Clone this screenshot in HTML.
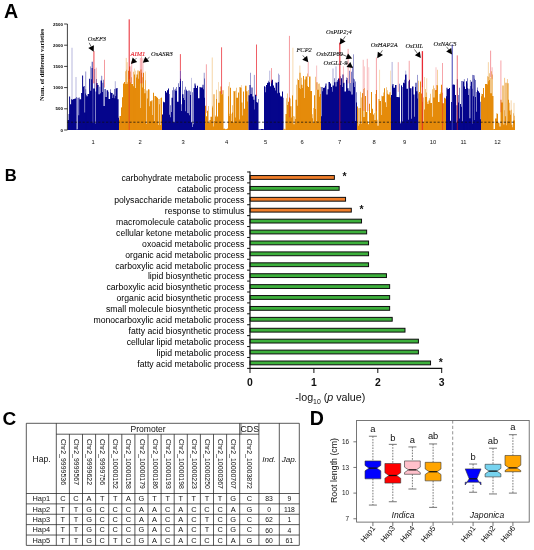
<!DOCTYPE html>
<html lang="en"><head><meta charset="utf-8"><title>Figure</title>
<style>html,body{margin:0;padding:0;background:#fff}svg{display:block}text{font-family:"Liberation Sans", Arial, sans-serif}.se{font-family:"Liberation Serif", "Times New Roman", serif}</style>
</head><body>
<svg width="534" height="550" viewBox="0 0 534 550">
<rect width="534" height="550" fill="#fff"/>
<text x="4.0" y="17.6" font-size="19.6" font-weight="bold" fill="#000">A</text>
<text x="4.8" y="180.8" font-size="16.6" font-weight="bold" fill="#000">B</text>
<text x="2.6" y="424.7" font-size="19.0" font-weight="bold" fill="#000">C</text>
<text x="309.7" y="425.1" font-size="19.6" font-weight="bold" fill="#000">D</text>
<g id="panelA">
<path d="M67.60 130.00h1.00V120.01h-1.00zM68.60 130.00h0.50V113.93h-0.50zM69.10 130.00h1.00V96.51h-1.00zM70.10 130.00h1.00V104.31h-1.00zM71.10 130.00h1.00V99.21h-1.00zM72.10 130.00h1.00V99.83h-1.00zM73.10 130.00h1.50V98.88h-1.50zM74.60 130.00h1.50V98.45h-1.50zM76.10 130.00h0.50V97.01h-0.50zM76.60 130.00h0.50V129.40h-0.50zM77.10 130.00h0.50V129.36h-0.50zM77.60 130.00h1.00V97.78h-1.00zM78.60 130.00h0.50V115.18h-0.50zM79.10 130.00h0.50V97.41h-0.50zM79.60 130.00h1.50V99.28h-1.50zM81.10 130.00h1.00V92.95h-1.00zM82.10 130.00h1.00V75.56h-1.00zM83.10 130.00h0.50V86.91h-0.50zM83.60 130.00h1.00V85.98h-1.00zM84.60 130.00h0.50V112.48h-0.50zM85.10 130.00h0.50V93.55h-0.50zM85.60 130.00h0.50V89.13h-0.50zM86.10 130.00h0.50V95.06h-0.50zM86.60 130.00h1.00V96.17h-1.00zM87.60 130.00h1.50V94.08h-1.50zM89.10 130.00h1.00V78.76h-1.00zM90.10 130.00h1.00V90.70h-1.00zM91.10 130.00h0.50V79.13h-0.50zM91.60 130.00h1.00V67.93h-1.00zM92.60 130.00h0.50V122.71h-0.50zM93.10 130.00h1.50V88.40h-1.50zM94.60 130.00h0.50V69.04h-0.50zM95.10 130.00h0.50V123.57h-0.50zM95.60 130.00h0.50V91.44h-0.50zM96.10 130.00h0.50V78.89h-0.50zM96.60 130.00h1.00V82.91h-1.00zM97.60 130.00h1.00V84.92h-1.00zM98.60 130.00h1.00V94.33h-1.00zM99.60 130.00h0.50V86.82h-0.50zM100.10 130.00h0.50V93.18h-0.50zM100.60 130.00h1.00V80.52h-1.00zM101.60 130.00h0.50V75.68h-0.50zM102.10 130.00h0.50V92.08h-0.50zM102.60 130.00h0.50V82.71h-0.50zM103.10 130.00h0.50V79.76h-0.50zM103.60 130.00h1.00V106.12h-1.00zM104.60 130.00h1.00V88.98h-1.00zM105.60 130.00h1.00V97.12h-1.00zM106.60 130.00h1.50V90.18h-1.50zM108.10 130.00h0.50V91.79h-0.50zM108.60 130.00h1.00V98.97h-1.00zM109.60 130.00h0.50V99.06h-0.50zM110.10 130.00h0.50V89.35h-0.50zM110.60 130.00h0.50V92.32h-0.50zM111.10 130.00h1.50V93.00h-1.50zM112.60 130.00h0.50V98.02h-0.50zM113.10 130.00h1.00V94.46h-1.00zM114.10 130.00h0.50V89.11h-0.50zM114.60 130.00h0.50V98.18h-0.50zM115.10 130.00h0.50V95.95h-0.50zM115.60 130.00h1.00V88.54h-1.00zM116.60 130.00h1.00V87.99h-1.00zM117.60 130.00h1.00V99.32h-1.00zM118.60 130.00h0.40V117.77h-0.40z" fill="#05058C"/>
<path d="M119.00 130.00h0.50V119.83h-0.50zM119.50 130.00h1.50V115.91h-1.50zM121.00 130.00h0.50V107.49h-0.50zM121.50 130.00h0.50V107.34h-0.50zM122.00 130.00h1.00V97.17h-1.00zM123.00 130.00h1.00V83.46h-1.00zM124.00 130.00h1.00V82.05h-1.00zM125.00 130.00h0.50V71.19h-0.50zM125.50 130.00h0.50V83.93h-0.50zM126.00 130.00h0.50V69.66h-0.50zM126.50 130.00h1.00V84.05h-1.00zM127.50 130.00h0.50V82.28h-0.50zM128.00 130.00h1.00V70.67h-1.00zM129.00 130.00h1.00V66.44h-1.00zM130.00 130.00h0.50V82.42h-0.50zM130.50 130.00h0.50V71.62h-0.50zM131.00 130.00h0.50V77.37h-0.50zM131.50 130.00h1.50V83.90h-1.50zM133.00 130.00h0.50V86.36h-0.50zM133.50 130.00h0.50V71.86h-0.50zM134.00 130.00h1.00V74.43h-1.00zM135.00 130.00h1.00V88.01h-1.00zM136.00 130.00h0.50V77.43h-0.50zM136.50 130.00h1.00V74.39h-1.00zM137.50 130.00h1.00V70.57h-1.00zM138.50 130.00h0.50V78.87h-0.50zM139.00 130.00h1.00V71.17h-1.00zM140.00 130.00h0.50V108.07h-0.50zM140.50 130.00h1.00V69.57h-1.00zM141.50 130.00h0.50V72.83h-0.50zM142.00 130.00h0.50V87.47h-0.50zM142.50 130.00h0.50V77.23h-0.50zM143.00 130.00h1.00V72.79h-1.00zM144.00 130.00h0.50V88.94h-0.50zM144.50 130.00h1.00V93.34h-1.00zM145.50 130.00h0.50V80.33h-0.50zM146.00 130.00h0.50V123.94h-0.50zM146.50 130.00h1.00V90.42h-1.00zM147.50 130.00h0.50V98.43h-0.50zM148.00 130.00h0.50V88.95h-0.50zM148.50 130.00h1.00V89.60h-1.00zM149.50 130.00h0.50V106.14h-0.50zM150.00 130.00h1.50V101.22h-1.50zM151.50 130.00h1.00V100.21h-1.00zM152.50 130.00h0.50V115.08h-0.50zM153.00 130.00h1.00V92.84h-1.00zM154.00 130.00h0.50V121.10h-0.50zM154.50 130.00h1.50V96.11h-1.50zM156.00 130.00h1.00V96.87h-1.00zM157.00 130.00h1.00V97.81h-1.00zM158.00 130.00h0.50V124.89h-0.50zM158.50 130.00h1.00V98.96h-1.00zM159.50 130.00h0.50V104.32h-0.50zM160.00 130.00h0.50V124.99h-0.50zM160.50 130.00h1.00V98.02h-1.00zM161.50 130.00h0.50V97.32h-0.50z" fill="#E58B0A"/>
<path d="M162.00 130.00h1.00V114.50h-1.00zM163.00 130.00h0.50V101.57h-0.50zM163.50 130.00h1.50V102.13h-1.50zM165.00 130.00h1.00V91.06h-1.00zM166.00 130.00h1.00V92.44h-1.00zM167.00 130.00h1.00V90.37h-1.00zM168.00 130.00h1.00V88.46h-1.00zM169.00 130.00h0.50V114.71h-0.50zM169.50 130.00h0.50V93.93h-0.50zM170.00 130.00h0.50V105.28h-0.50zM170.50 130.00h0.50V117.36h-0.50zM171.00 130.00h0.50V111.94h-0.50zM171.50 130.00h1.00V97.87h-1.00zM172.50 130.00h0.50V90.14h-0.50zM173.00 130.00h0.50V87.20h-0.50zM173.50 130.00h1.00V122.34h-1.00zM174.50 130.00h0.50V89.67h-0.50zM175.00 130.00h0.50V88.70h-0.50zM175.50 130.00h1.00V90.72h-1.00zM176.50 130.00h0.50V87.09h-0.50zM177.00 130.00h1.50V101.76h-1.50zM178.50 130.00h0.50V83.29h-0.50zM179.00 130.00h1.00V86.94h-1.00zM180.00 130.00h1.00V78.84h-1.00zM181.00 130.00h0.50V111.10h-0.50zM181.50 130.00h0.50V104.27h-0.50zM182.00 130.00h0.50V80.92h-0.50zM182.50 130.00h1.00V94.33h-1.00zM183.50 130.00h0.50V98.01h-0.50zM184.00 130.00h0.50V99.92h-0.50zM184.50 130.00h0.50V89.86h-0.50zM185.00 130.00h0.50V86.67h-0.50zM185.50 130.00h0.50V111.18h-0.50zM186.00 130.00h0.50V89.62h-0.50zM186.50 130.00h0.50V90.60h-0.50zM187.00 130.00h0.50V90.89h-0.50zM187.50 130.00h0.50V112.99h-0.50zM188.00 130.00h0.50V113.34h-0.50zM188.50 130.00h1.00V90.62h-1.00zM189.50 130.00h0.50V115.16h-0.50zM190.00 130.00h0.50V95.09h-0.50zM190.50 130.00h0.50V91.56h-0.50zM191.00 130.00h1.00V122.22h-1.00zM192.00 130.00h0.50V92.31h-0.50zM192.50 130.00h0.50V126.99h-0.50zM193.00 130.00h0.50V124.30h-0.50zM193.50 130.00h1.00V88.07h-1.00zM194.50 130.00h1.00V83.49h-1.00zM195.50 130.00h0.50V85.61h-0.50zM196.00 130.00h1.00V88.08h-1.00zM197.00 130.00h1.00V85.73h-1.00zM198.00 130.00h1.50V98.15h-1.50zM199.50 130.00h1.00V87.05h-1.00zM200.50 130.00h1.00V87.42h-1.00zM201.50 130.00h1.00V87.41h-1.00zM202.50 130.00h1.00V84.85h-1.00zM203.50 130.00h0.50V89.19h-0.50zM204.00 130.00h0.50V78.39h-0.50zM204.50 130.00h0.50V97.74h-0.50z" fill="#05058C"/>
<path d="M205.00 130.00h1.00V105.77h-1.00zM206.00 130.00h1.00V116.34h-1.00zM207.00 130.00h1.00V110.78h-1.00zM208.00 130.00h0.50V106.07h-0.50zM208.50 130.00h1.00V123.12h-1.00zM209.50 130.00h1.00V120.12h-1.00zM210.50 130.00h1.50V116.72h-1.50zM212.00 130.00h0.50V105.83h-0.50zM212.50 130.00h0.50V107.56h-0.50zM213.00 130.00h0.50V126.49h-0.50zM213.50 130.00h1.00V94.18h-1.00zM214.50 130.00h0.50V120.92h-0.50zM215.00 130.00h0.50V115.42h-0.50zM215.50 130.00h0.50V116.83h-0.50zM216.00 130.00h0.50V89.67h-0.50zM216.50 130.00h0.50V99.12h-0.50zM217.00 130.00h1.00V116.50h-1.00zM218.00 130.00h1.50V102.76h-1.50zM219.50 130.00h1.00V91.21h-1.00zM220.50 130.00h1.00V86.47h-1.00zM221.50 130.00h1.00V94.21h-1.00zM222.50 130.00h1.00V90.20h-1.00zM223.50 130.00h0.50V128.87h-0.50zM224.00 130.00h0.50V128.62h-0.50zM224.50 130.00h0.50V128.82h-0.50zM225.00 130.00h0.50V129.31h-0.50zM225.50 130.00h0.50V129.18h-0.50zM226.00 130.00h0.50V129.30h-0.50zM226.50 130.00h0.50V128.91h-0.50zM227.00 130.00h0.50V128.51h-0.50zM227.50 130.00h0.50V128.50h-0.50zM228.00 130.00h0.50V86.25h-0.50zM228.50 130.00h0.50V96.30h-0.50zM229.00 130.00h0.50V116.10h-0.50zM229.50 130.00h0.50V113.80h-0.50zM230.00 130.00h1.00V87.76h-1.00zM231.00 130.00h0.50V113.86h-0.50zM231.50 130.00h0.50V121.04h-0.50zM232.00 130.00h0.50V112.38h-0.50zM232.50 130.00h0.50V105.25h-0.50zM233.00 130.00h0.50V90.94h-0.50zM233.50 130.00h0.50V122.32h-0.50zM234.00 130.00h1.00V91.29h-1.00zM235.00 130.00h0.50V90.68h-0.50zM235.50 130.00h0.50V117.55h-0.50zM236.00 130.00h0.50V87.67h-0.50zM236.50 130.00h1.50V97.85h-1.50zM238.00 130.00h1.00V92.54h-1.00zM239.00 130.00h0.50V119.54h-0.50zM239.50 130.00h1.00V86.91h-1.00zM240.50 130.00h1.00V87.83h-1.00zM241.50 130.00h1.00V102.54h-1.00zM242.50 130.00h0.50V115.55h-0.50zM243.00 130.00h1.00V91.46h-1.00zM244.00 130.00h1.00V108.69h-1.00zM245.00 130.00h0.50V86.25h-0.50zM245.50 130.00h1.00V85.65h-1.00zM246.50 130.00h1.00V91.17h-1.00zM247.50 130.00h0.50V101.40h-0.50zM248.00 130.00h0.50V89.95h-0.50z" fill="#E58B0A"/>
<path d="M248.50 130.00h1.00V95.29h-1.00zM249.50 130.00h1.00V84.94h-1.00zM250.50 130.00h1.00V93.99h-1.00zM251.50 130.00h1.00V87.44h-1.00zM252.50 130.00h1.00V96.57h-1.00zM253.50 130.00h1.00V99.74h-1.00zM254.50 130.00h0.50V109.47h-0.50zM255.00 130.00h1.50V94.86h-1.50zM256.50 130.00h1.00V101.98h-1.00zM257.50 130.00h0.50V102.94h-0.50zM258.00 130.00h0.50V99.10h-0.50zM258.50 130.00h0.50V129.57h-0.50zM259.00 130.00h0.50V129.36h-0.50zM259.50 130.00h0.50V129.55h-0.50zM260.00 130.00h0.50V129.43h-0.50zM260.50 130.00h0.50V129.36h-0.50zM261.00 130.00h0.50V129.11h-0.50zM261.50 130.00h0.50V129.08h-0.50zM262.00 130.00h0.50V128.97h-0.50zM262.50 130.00h0.50V128.89h-0.50zM263.00 130.00h0.50V129.01h-0.50zM263.50 130.00h0.50V129.43h-0.50zM264.00 130.00h1.00V86.20h-1.00zM265.00 130.00h0.50V86.73h-0.50zM265.50 130.00h0.50V92.28h-0.50zM266.00 130.00h1.00V85.10h-1.00zM267.00 130.00h0.50V82.87h-0.50zM267.50 130.00h0.50V83.10h-0.50zM268.00 130.00h0.50V80.77h-0.50zM268.50 130.00h0.50V82.60h-0.50zM269.00 130.00h1.00V82.16h-1.00zM270.00 130.00h1.00V86.16h-1.00zM271.00 130.00h0.50V81.18h-0.50zM271.50 130.00h1.50V79.66h-1.50zM273.00 130.00h1.00V85.42h-1.00zM274.00 130.00h1.00V87.71h-1.00zM275.00 130.00h0.50V82.54h-0.50zM275.50 130.00h0.50V90.53h-0.50zM276.00 130.00h0.50V82.98h-0.50zM276.50 130.00h1.00V82.45h-1.00zM277.50 130.00h0.50V93.13h-0.50zM278.00 130.00h1.00V82.05h-1.00zM279.00 130.00h1.00V92.65h-1.00zM280.00 130.00h0.50V95.55h-0.50zM280.50 130.00h1.50V96.55h-1.50zM282.00 130.00h1.00V91.53h-1.00zM283.00 130.00h0.50V97.82h-0.50z" fill="#05058C"/>
<path d="M283.50 130.00h0.50V128.45h-0.50zM284.00 130.00h0.50V129.51h-0.50zM284.50 130.00h0.50V128.82h-0.50zM285.00 130.00h0.50V129.56h-0.50zM285.50 130.00h1.00V113.90h-1.00zM286.50 130.00h0.50V98.20h-0.50zM287.00 130.00h0.50V105.03h-0.50zM287.50 130.00h0.50V93.61h-0.50zM288.00 130.00h1.00V101.87h-1.00zM289.00 130.00h1.00V97.62h-1.00zM290.00 130.00h0.50V106.35h-0.50zM290.50 130.00h0.50V98.42h-0.50zM291.00 130.00h0.50V117.51h-0.50zM291.50 130.00h0.50V106.36h-0.50zM292.00 130.00h0.50V95.33h-0.50zM292.50 130.00h0.50V95.41h-0.50zM293.00 130.00h0.50V115.91h-0.50zM293.50 130.00h1.00V124.36h-1.00zM294.50 130.00h0.50V116.58h-0.50zM295.00 130.00h0.50V118.93h-0.50zM295.50 130.00h1.00V99.63h-1.00zM296.50 130.00h0.50V84.76h-0.50zM297.00 130.00h0.50V105.67h-0.50zM297.50 130.00h0.50V78.77h-0.50zM298.00 130.00h1.00V80.00h-1.00zM299.00 130.00h0.50V88.05h-0.50zM299.50 130.00h1.00V72.66h-1.00zM300.50 130.00h0.50V89.06h-0.50zM301.00 130.00h0.50V77.76h-0.50zM301.50 130.00h1.00V84.65h-1.00zM302.50 130.00h0.50V87.93h-0.50zM303.00 130.00h1.00V75.90h-1.00zM304.00 130.00h0.50V98.12h-0.50zM304.50 130.00h1.00V79.45h-1.00zM305.50 130.00h1.50V76.54h-1.50zM307.00 130.00h0.50V85.99h-0.50zM307.50 130.00h0.50V73.58h-0.50zM308.00 130.00h1.00V87.10h-1.00zM309.00 130.00h1.50V76.54h-1.50zM310.50 130.00h1.50V91.09h-1.50zM312.00 130.00h0.50V118.21h-0.50zM312.50 130.00h0.50V114.24h-0.50zM313.00 130.00h0.50V107.97h-0.50zM313.50 130.00h0.50V122.96h-0.50zM314.00 130.00h1.00V95.34h-1.00zM315.00 130.00h0.50V108.88h-0.50zM315.50 130.00h0.50V76.66h-0.50zM316.00 130.00h0.50V121.02h-0.50zM316.50 130.00h1.00V82.30h-1.00zM317.50 130.00h1.00V89.66h-1.00zM318.50 130.00h0.50V83.69h-0.50zM319.00 130.00h0.50V96.68h-0.50zM319.50 130.00h0.50V83.56h-0.50zM320.00 130.00h0.50V94.03h-0.50zM320.50 130.00h0.50V86.69h-0.50z" fill="#E58B0A"/>
<path d="M321.00 130.00h0.50V116.37h-0.50zM321.50 130.00h1.00V87.02h-1.00zM322.50 130.00h0.50V91.24h-0.50zM323.00 130.00h0.50V87.88h-0.50zM323.50 130.00h1.00V87.77h-1.00zM324.50 130.00h0.50V87.53h-0.50zM325.00 130.00h0.50V85.66h-0.50zM325.50 130.00h1.00V83.55h-1.00zM326.50 130.00h1.00V94.47h-1.00zM327.50 130.00h1.00V89.14h-1.00zM328.50 130.00h1.50V81.95h-1.50zM330.00 130.00h1.00V83.38h-1.00zM331.00 130.00h1.00V87.08h-1.00zM332.00 130.00h0.50V91.70h-0.50zM332.50 130.00h1.50V85.57h-1.50zM334.00 130.00h0.50V78.28h-0.50zM334.50 130.00h1.00V82.33h-1.00zM335.50 130.00h1.00V86.43h-1.00zM336.50 130.00h1.00V81.73h-1.00zM337.50 130.00h0.50V79.89h-0.50zM338.00 130.00h1.00V78.52h-1.00zM339.00 130.00h1.00V78.48h-1.00zM340.00 130.00h0.50V85.09h-0.50zM340.50 130.00h0.50V76.36h-0.50zM341.00 130.00h1.00V78.29h-1.00zM342.00 130.00h0.50V86.91h-0.50zM342.50 130.00h1.00V74.46h-1.00zM343.50 130.00h1.00V82.64h-1.00zM344.50 130.00h1.50V91.56h-1.50zM346.00 130.00h0.50V77.55h-0.50zM346.50 130.00h0.50V79.92h-0.50zM347.00 130.00h0.50V77.89h-0.50zM347.50 130.00h1.00V88.17h-1.00zM348.50 130.00h1.00V90.78h-1.00zM349.50 130.00h0.50V70.69h-0.50zM350.00 130.00h0.50V82.91h-0.50zM350.50 130.00h0.50V91.61h-0.50zM351.00 130.00h0.50V71.79h-0.50zM351.50 130.00h1.50V94.44h-1.50zM353.00 130.00h0.50V78.62h-0.50zM353.50 130.00h0.50V82.70h-0.50zM354.00 130.00h0.50V79.28h-0.50zM354.50 130.00h0.50V87.11h-0.50zM355.00 130.00h0.50V81.38h-0.50zM355.50 130.00h0.50V121.04h-0.50zM356.00 130.00h0.50V92.29h-0.50zM356.50 130.00h0.50V102.58h-0.50z" fill="#05058C"/>
<path d="M357.00 130.00h1.00V106.41h-1.00zM358.00 130.00h0.50V125.74h-0.50zM358.50 130.00h0.50V108.14h-0.50zM359.00 130.00h0.50V124.01h-0.50zM359.50 130.00h1.00V108.04h-1.00zM360.50 130.00h0.50V91.65h-0.50zM361.00 130.00h0.50V123.76h-0.50zM361.50 130.00h0.50V97.50h-0.50zM362.00 130.00h0.50V92.97h-0.50zM362.50 130.00h0.50V93.15h-0.50zM363.00 130.00h0.50V89.01h-0.50zM363.50 130.00h1.00V116.89h-1.00zM364.50 130.00h0.50V88.02h-0.50zM365.00 130.00h1.00V96.07h-1.00zM366.00 130.00h1.00V111.91h-1.00zM367.00 130.00h0.50V121.21h-0.50zM367.50 130.00h0.50V90.35h-0.50zM368.00 130.00h1.00V124.29h-1.00zM369.00 130.00h1.00V103.81h-1.00zM370.00 130.00h1.00V113.11h-1.00zM371.00 130.00h1.00V92.06h-1.00zM372.00 130.00h1.00V108.78h-1.00zM373.00 130.00h1.00V114.39h-1.00zM374.00 130.00h0.50V112.98h-0.50zM374.50 130.00h1.00V120.04h-1.00zM375.50 130.00h0.50V93.97h-0.50zM376.00 130.00h1.00V89.89h-1.00zM377.00 130.00h0.50V119.66h-0.50zM377.50 130.00h1.00V125.66h-1.00zM378.50 130.00h1.00V99.00h-1.00zM379.50 130.00h1.50V100.95h-1.50zM381.00 130.00h0.50V115.06h-0.50zM381.50 130.00h0.50V95.64h-0.50zM382.00 130.00h1.00V96.22h-1.00zM383.00 130.00h0.50V92.50h-0.50zM383.50 130.00h0.50V96.04h-0.50zM384.00 130.00h1.00V88.29h-1.00zM385.00 130.00h1.00V102.28h-1.00zM386.00 130.00h0.50V106.90h-0.50zM386.50 130.00h0.50V87.33h-0.50zM387.00 130.00h0.50V90.19h-0.50zM387.50 130.00h0.50V93.64h-0.50zM388.00 130.00h1.50V94.38h-1.50zM389.50 130.00h1.00V92.22h-1.00zM390.50 130.00h0.50V97.40h-0.50z" fill="#E58B0A"/>
<path d="M391.00 130.00h1.00V95.02h-1.00zM392.00 130.00h0.50V85.60h-0.50zM392.50 130.00h1.00V84.00h-1.00zM393.50 130.00h1.50V87.66h-1.50zM395.00 130.00h1.50V84.97h-1.50zM396.50 130.00h1.00V97.01h-1.00zM397.50 130.00h1.00V96.91h-1.00zM398.50 130.00h1.00V97.35h-1.00zM399.50 130.00h0.50V83.87h-0.50zM400.00 130.00h0.50V123.59h-0.50zM400.50 130.00h0.50V123.07h-0.50zM401.00 130.00h0.50V85.26h-0.50zM401.50 130.00h0.50V85.51h-0.50zM402.00 130.00h0.50V121.42h-0.50zM402.50 130.00h0.50V87.07h-0.50zM403.00 130.00h0.50V82.41h-0.50zM403.50 130.00h0.50V83.07h-0.50zM404.00 130.00h0.50V83.13h-0.50zM404.50 130.00h0.50V79.87h-0.50zM405.00 130.00h0.50V74.86h-0.50zM405.50 130.00h1.00V74.53h-1.00zM406.50 130.00h1.50V88.64h-1.50zM408.00 130.00h0.50V81.27h-0.50zM408.50 130.00h0.50V119.71h-0.50zM409.00 130.00h1.00V79.77h-1.00zM410.00 130.00h1.50V88.24h-1.50zM411.50 130.00h0.50V118.84h-0.50zM412.00 130.00h1.50V86.39h-1.50zM413.50 130.00h1.00V94.50h-1.00zM414.50 130.00h0.50V116.65h-0.50zM415.00 130.00h0.50V87.11h-0.50zM415.50 130.00h1.00V82.87h-1.00zM416.50 130.00h1.00V91.32h-1.00zM417.50 130.00h0.50V98.55h-0.50zM418.00 130.00h0.50V93.48h-0.50z" fill="#05058C"/>
<path d="M418.50 130.00h0.50V80.85h-0.50zM419.00 130.00h1.00V91.99h-1.00zM420.00 130.00h0.50V80.71h-0.50zM420.50 130.00h0.50V82.10h-0.50zM421.00 130.00h1.00V93.44h-1.00zM422.00 130.00h0.50V86.24h-0.50zM422.50 130.00h0.50V101.81h-0.50zM423.00 130.00h0.50V97.39h-0.50zM423.50 130.00h0.50V122.07h-0.50zM424.00 130.00h1.00V109.43h-1.00zM425.00 130.00h0.50V89.04h-0.50zM425.50 130.00h1.00V97.09h-1.00zM426.50 130.00h0.50V92.48h-0.50zM427.00 130.00h0.50V101.83h-0.50zM427.50 130.00h1.00V104.11h-1.00zM428.50 130.00h1.00V100.58h-1.00zM429.50 130.00h0.50V98.19h-0.50zM430.00 130.00h0.50V93.70h-0.50zM430.50 130.00h1.50V102.96h-1.50zM432.00 130.00h0.50V116.68h-0.50zM432.50 130.00h0.50V89.20h-0.50zM433.00 130.00h0.50V85.61h-0.50zM433.50 130.00h1.00V97.46h-1.00zM434.50 130.00h0.50V88.29h-0.50zM435.00 130.00h0.50V90.36h-0.50zM435.50 130.00h1.00V89.92h-1.00zM436.50 130.00h0.50V84.95h-0.50zM437.00 130.00h1.00V85.17h-1.00zM438.00 130.00h1.50V102.11h-1.50zM439.50 130.00h1.00V93.93h-1.00zM440.50 130.00h0.50V92.55h-0.50zM441.00 130.00h1.00V84.69h-1.00zM442.00 130.00h0.50V93.05h-0.50zM442.50 130.00h1.50V103.33h-1.50zM444.00 130.00h1.00V97.85h-1.00zM445.00 130.00h1.00V98.50h-1.00z" fill="#E58B0A"/>
<path d="M446.00 130.00h0.50V96.30h-0.50zM446.50 130.00h1.00V87.67h-1.00zM447.50 130.00h0.50V89.28h-0.50zM448.00 130.00h1.00V88.89h-1.00zM449.00 130.00h1.00V87.90h-1.00zM450.00 130.00h1.00V120.73h-1.00zM451.00 130.00h1.00V102.05h-1.00zM452.00 130.00h1.00V84.80h-1.00zM453.00 130.00h0.50V84.55h-0.50zM453.50 130.00h0.50V84.57h-0.50zM454.00 130.00h1.00V84.67h-1.00zM455.00 130.00h1.00V95.08h-1.00zM456.00 130.00h0.50V122.41h-0.50zM456.50 130.00h1.00V105.16h-1.00zM457.50 130.00h0.50V120.57h-0.50zM458.00 130.00h0.50V102.47h-0.50zM458.50 130.00h0.50V94.92h-0.50zM459.00 130.00h0.50V118.49h-0.50zM459.50 130.00h0.50V87.72h-0.50zM460.00 130.00h1.00V104.07h-1.00zM461.00 130.00h0.50V106.74h-0.50zM461.50 130.00h1.00V81.07h-1.00zM462.50 130.00h0.50V121.14h-0.50zM463.00 130.00h1.00V81.40h-1.00zM464.00 130.00h1.00V86.53h-1.00zM465.00 130.00h1.00V89.03h-1.00zM466.00 130.00h1.00V81.19h-1.00zM467.00 130.00h0.50V78.26h-0.50zM467.50 130.00h0.50V88.24h-0.50zM468.00 130.00h0.50V95.12h-0.50zM468.50 130.00h1.00V88.84h-1.00zM469.50 130.00h1.00V118.14h-1.00zM470.50 130.00h0.50V86.09h-0.50zM471.00 130.00h1.00V81.67h-1.00zM472.00 130.00h0.50V88.67h-0.50zM472.50 130.00h0.50V123.85h-0.50zM473.00 130.00h0.50V74.93h-0.50zM473.50 130.00h0.50V96.16h-0.50zM474.00 130.00h0.50V78.81h-0.50zM474.50 130.00h0.50V119.89h-0.50zM475.00 130.00h0.50V80.10h-0.50zM475.50 130.00h0.50V97.10h-0.50zM476.00 130.00h0.50V92.04h-0.50zM476.50 130.00h0.50V111.82h-0.50zM477.00 130.00h0.50V87.62h-0.50zM477.50 130.00h0.50V90.16h-0.50zM478.00 130.00h1.00V91.20h-1.00zM479.00 130.00h1.00V92.63h-1.00zM480.00 130.00h0.50V119.29h-0.50zM480.50 130.00h0.50V101.80h-0.50z" fill="#05058C"/>
<path d="M481.00 130.00h0.50V93.69h-0.50zM481.50 130.00h0.50V96.29h-0.50zM482.00 130.00h1.00V94.00h-1.00zM483.00 130.00h1.00V88.00h-1.00zM484.00 130.00h1.00V97.53h-1.00zM485.00 130.00h1.00V84.12h-1.00zM486.00 130.00h1.00V84.01h-1.00zM487.00 130.00h0.50V84.42h-0.50zM487.50 130.00h0.50V76.19h-0.50zM488.00 130.00h0.50V81.15h-0.50zM488.50 130.00h0.50V76.84h-0.50zM489.00 130.00h0.50V80.07h-0.50zM489.50 130.00h0.50V73.13h-0.50zM490.00 130.00h0.50V77.49h-0.50zM490.50 130.00h1.00V93.20h-1.00zM491.50 130.00h0.50V71.31h-0.50zM492.00 130.00h0.50V74.58h-0.50zM492.50 130.00h1.00V96.03h-1.00zM493.50 130.00h0.50V129.19h-0.50zM494.00 130.00h0.50V129.10h-0.50zM494.50 130.00h0.50V129.12h-0.50zM495.00 130.00h1.50V118.43h-1.50zM496.50 130.00h0.50V113.36h-0.50zM497.00 130.00h1.00V113.76h-1.00zM498.00 130.00h1.00V122.85h-1.00zM499.00 130.00h0.50V123.32h-0.50zM499.50 130.00h1.00V126.62h-1.00zM500.50 130.00h1.00V99.73h-1.00zM501.50 130.00h1.00V102.49h-1.00zM502.50 130.00h1.00V85.52h-1.00zM503.50 130.00h1.00V124.45h-1.00zM504.50 130.00h0.50V110.22h-0.50zM505.00 130.00h0.50V116.23h-0.50zM505.50 130.00h1.00V82.74h-1.00zM506.50 130.00h0.50V125.18h-0.50zM507.00 130.00h0.50V121.32h-0.50zM507.50 130.00h1.00V83.21h-1.00zM508.50 130.00h0.50V99.70h-0.50zM509.00 130.00h0.50V102.67h-0.50zM509.50 130.00h1.00V110.52h-1.00zM510.50 130.00h0.50V114.79h-0.50zM511.00 130.00h0.50V124.66h-0.50zM511.50 130.00h0.50V109.80h-0.50zM512.00 130.00h0.50V124.61h-0.50zM512.50 130.00h0.50V127.22h-0.50zM513.00 130.00h0.50V113.36h-0.50zM513.50 130.00h1.00V120.56h-1.00zM514.50 130.00h0.50V115.79h-0.50z" fill="#E58B0A"/>
<rect x="71.65" y="47.74" width="0.70" height="82.26" fill="#05058C" opacity="0.40"/>
<rect x="75.70" y="77.00" width="0.60" height="53.00" fill="#05058C" opacity="0.45"/>
<rect x="85.45" y="71.49" width="0.70" height="58.51" fill="#05058C" opacity="0.60"/>
<rect x="90.25" y="66.40" width="0.70" height="63.60" fill="#05058C" opacity="0.55"/>
<rect x="91.75" y="61.74" width="0.90" height="68.26" fill="#05058C" opacity="0.85"/>
<rect x="93.30" y="51.14" width="1.20" height="32.22" fill="#E8202A" opacity="0.70"/>
<rect x="95.80" y="67.67" width="0.80" height="19.93" fill="#E8202A" opacity="0.45"/>
<rect x="104.05" y="59.79" width="0.90" height="27.81" fill="#E8202A" opacity="0.50"/>
<rect x="114.85" y="81.24" width="0.70" height="48.76" fill="#05058C" opacity="0.45"/>
<rect x="128.65" y="19.34" width="1.10" height="59.78" fill="#E8202A" opacity="0.90"/>
<rect x="128.65" y="79.12" width="1.10" height="50.88" fill="#E8202A" opacity="0.50"/>
<rect x="125.80" y="57.92" width="0.80" height="72.08" fill="#E58B0A" opacity="0.50"/>
<rect x="126.85" y="62.16" width="0.70" height="67.84" fill="#E58B0A" opacity="0.50"/>
<rect x="130.45" y="66.40" width="0.70" height="16.96" fill="#E8202A" opacity="0.45"/>
<rect x="131.45" y="61.31" width="0.70" height="22.05" fill="#E8202A" opacity="0.45"/>
<rect x="139.90" y="57.92" width="0.80" height="25.44" fill="#E8202A" opacity="0.45"/>
<rect x="141.20" y="56.44" width="0.80" height="26.92" fill="#E8202A" opacity="0.45"/>
<rect x="142.50" y="58.34" width="0.80" height="25.02" fill="#E8202A" opacity="0.45"/>
<rect x="133.95" y="68.52" width="0.70" height="61.48" fill="#E58B0A" opacity="0.50"/>
<rect x="135.25" y="70.64" width="0.70" height="59.36" fill="#E58B0A" opacity="0.50"/>
<rect x="144.95" y="71.49" width="0.70" height="58.51" fill="#E58B0A" opacity="0.50"/>
<rect x="179.90" y="54.10" width="1.00" height="16.54" fill="#E8202A" opacity="0.75"/>
<rect x="179.90" y="70.64" width="1.00" height="10.60" fill="#6A1B8A" opacity="0.80"/>
<rect x="179.80" y="81.24" width="1.20" height="48.76" fill="#05058C" opacity="0.90"/>
<rect x="191.00" y="77.85" width="0.60" height="52.15" fill="#05058C" opacity="0.40"/>
<rect x="203.75" y="72.76" width="0.90" height="57.24" fill="#05058C" opacity="0.45"/>
<rect x="205.90" y="64.28" width="0.80" height="48.76" fill="#E8202A" opacity="0.50"/>
<rect x="211.80" y="57.50" width="0.80" height="72.50" fill="#E58B0A" opacity="0.45"/>
<rect x="221.15" y="47.32" width="0.90" height="46.64" fill="#E8202A" opacity="0.80"/>
<rect x="228.95" y="82.09" width="0.70" height="47.91" fill="#E58B0A" opacity="0.50"/>
<rect x="218.00" y="82.09" width="0.60" height="47.91" fill="#E58B0A" opacity="0.45"/>
<rect x="240.95" y="85.06" width="0.70" height="44.94" fill="#E58B0A" opacity="0.50"/>
<rect x="245.25" y="85.48" width="0.70" height="44.52" fill="#E58B0A" opacity="0.50"/>
<rect x="256.05" y="44.52" width="0.90" height="51.56" fill="#E8202A" opacity="0.80"/>
<rect x="250.20" y="72.76" width="0.80" height="57.24" fill="#05058C" opacity="0.50"/>
<rect x="253.90" y="74.88" width="0.80" height="55.12" fill="#05058C" opacity="0.50"/>
<rect x="269.45" y="70.64" width="0.70" height="59.36" fill="#05058C" opacity="0.40"/>
<rect x="271.20" y="68.10" width="0.80" height="15.26" fill="#E8202A" opacity="0.55"/>
<rect x="278.10" y="73.61" width="0.80" height="56.39" fill="#05058C" opacity="0.45"/>
<rect x="279.25" y="74.88" width="0.70" height="55.12" fill="#05058C" opacity="0.40"/>
<rect x="288.95" y="35.87" width="0.90" height="81.41" fill="#E8202A" opacity="0.50"/>
<rect x="292.50" y="47.74" width="0.80" height="82.26" fill="#E58B0A" opacity="0.40"/>
<rect x="299.55" y="65.55" width="0.70" height="64.45" fill="#E58B0A" opacity="0.50"/>
<rect x="307.80" y="62.16" width="0.80" height="14.84" fill="#E8202A" opacity="0.45"/>
<rect x="316.30" y="65.55" width="0.80" height="24.17" fill="#E8202A" opacity="0.35"/>
<rect x="339.20" y="42.66" width="1.20" height="38.58" fill="#E8202A" opacity="0.90"/>
<rect x="339.20" y="81.24" width="1.20" height="48.76" fill="#E8202A" opacity="0.60"/>
<rect x="342.95" y="66.40" width="0.70" height="16.96" fill="#E8202A" opacity="0.40"/>
<rect x="347.65" y="48.89" width="0.90" height="34.47" fill="#E8202A" opacity="0.45"/>
<rect x="349.95" y="63.86" width="0.70" height="19.50" fill="#E8202A" opacity="0.40"/>
<rect x="352.00" y="66.40" width="0.80" height="63.60" fill="#05058C" opacity="0.60"/>
<rect x="353.10" y="54.32" width="0.80" height="75.68" fill="#05058C" opacity="0.50"/>
<rect x="332.65" y="68.52" width="0.70" height="61.48" fill="#05058C" opacity="0.50"/>
<rect x="335.65" y="66.40" width="0.70" height="63.60" fill="#05058C" opacity="0.50"/>
<rect x="362.70" y="59.79" width="1.00" height="51.13" fill="#E8202A" opacity="0.33"/>
<rect x="364.00" y="66.40" width="0.80" height="44.52" fill="#E8202A" opacity="0.28"/>
<rect x="366.80" y="58.77" width="1.00" height="52.15" fill="#E8202A" opacity="0.33"/>
<rect x="368.40" y="67.25" width="0.80" height="43.67" fill="#E8202A" opacity="0.28"/>
<rect x="375.90" y="57.58" width="1.00" height="53.34" fill="#E8202A" opacity="0.40"/>
<rect x="379.35" y="69.79" width="0.70" height="60.21" fill="#E58B0A" opacity="0.40"/>
<rect x="390.25" y="70.64" width="0.70" height="59.36" fill="#E58B0A" opacity="0.35"/>
<rect x="391.70" y="61.95" width="0.80" height="68.05" fill="#05058C" opacity="0.40"/>
<rect x="397.80" y="62.16" width="0.80" height="29.68" fill="#E8202A" opacity="0.45"/>
<rect x="405.45" y="70.64" width="0.70" height="59.36" fill="#05058C" opacity="0.40"/>
<rect x="408.75" y="60.80" width="0.90" height="26.80" fill="#E8202A" opacity="0.45"/>
<rect x="417.20" y="74.88" width="0.80" height="55.12" fill="#05058C" opacity="0.50"/>
<rect x="421.75" y="51.14" width="1.30" height="36.46" fill="#E8202A" opacity="0.95"/>
<rect x="421.75" y="87.60" width="1.30" height="42.40" fill="#E8202A" opacity="0.70"/>
<rect x="435.60" y="67.25" width="0.80" height="24.59" fill="#E8202A" opacity="0.35"/>
<rect x="437.00" y="69.79" width="0.80" height="60.21" fill="#E58B0A" opacity="0.50"/>
<rect x="442.05" y="63.01" width="0.90" height="28.83" fill="#E8202A" opacity="0.45"/>
<rect x="442.05" y="91.84" width="0.90" height="38.16" fill="#E8202A" opacity="0.55"/>
<rect x="424.25" y="77.00" width="0.70" height="53.00" fill="#E58B0A" opacity="0.45"/>
<rect x="426.45" y="78.27" width="0.70" height="51.73" fill="#E58B0A" opacity="0.45"/>
<rect x="451.60" y="44.52" width="1.40" height="85.48" fill="#3C3CB4" opacity="0.70"/>
<rect x="456.75" y="55.38" width="1.10" height="23.74" fill="#E8202A" opacity="0.55"/>
<rect x="456.75" y="79.12" width="1.10" height="50.88" fill="#A01030" opacity="0.85"/>
<rect x="463.90" y="79.12" width="0.80" height="50.88" fill="#05058C" opacity="0.60"/>
<rect x="472.20" y="74.88" width="0.80" height="55.12" fill="#05058C" opacity="0.55"/>
<rect x="473.90" y="75.30" width="0.80" height="54.70" fill="#05058C" opacity="0.55"/>
<rect x="463.45" y="87.60" width="0.70" height="42.40" fill="#05058C" opacity="0.60"/>
<rect x="466.70" y="83.36" width="0.80" height="46.64" fill="#05058C" opacity="0.60"/>
<rect x="469.90" y="79.97" width="0.80" height="50.03" fill="#05058C" opacity="0.60"/>
<rect x="487.90" y="62.16" width="0.80" height="67.84" fill="#E58B0A" opacity="0.45"/>
<rect x="490.10" y="50.63" width="1.00" height="26.37" fill="#E8202A" opacity="0.45"/>
<rect x="491.70" y="67.25" width="0.80" height="11.87" fill="#E8202A" opacity="0.40"/>
<rect x="500.45" y="60.46" width="0.90" height="51.73" fill="#E8202A" opacity="0.45"/>
<rect x="504.15" y="77.85" width="0.90" height="52.15" fill="#E58B0A" opacity="0.50"/>
<rect x="506.95" y="79.12" width="0.90" height="50.88" fill="#E58B0A" opacity="0.50"/>
<rect x="510.75" y="100.32" width="0.70" height="29.68" fill="#E58B0A" opacity="0.50"/>
<rect x="513.65" y="102.86" width="0.70" height="27.14" fill="#E58B0A" opacity="0.50"/>
<path d="M67 122.2H515" stroke="#111" stroke-width="0.75" stroke-dasharray="2.2 1.7" fill="none"/>
<text x="62.9" y="131.60" font-size="4.4" font-weight="bold" text-anchor="end" fill="#000">0</text>
<text x="62.9" y="110.40" font-size="4.4" font-weight="bold" text-anchor="end" fill="#000">500</text>
<text x="62.9" y="89.20" font-size="4.4" font-weight="bold" text-anchor="end" fill="#000">1000</text>
<text x="62.9" y="68.00" font-size="4.4" font-weight="bold" text-anchor="end" fill="#000">1500</text>
<text x="62.9" y="46.80" font-size="4.4" font-weight="bold" text-anchor="end" fill="#000">2000</text>
<text x="62.9" y="25.60" font-size="4.4" font-weight="bold" text-anchor="end" fill="#000">2500</text>
<path d="M67.4 24.00V130.00M67.4 130.00h-3.3M67.4 108.80h-3.3M67.4 87.60h-3.3M67.4 66.40h-3.3M67.4 45.20h-3.3M67.4 24.00h-3.3" stroke="#111" stroke-width="0.8" fill="none"/>
<text class="se" transform="translate(44.1 64.9) rotate(-90) scale(0.908 1)" font-size="7.1" font-weight="bold" text-anchor="middle" fill="#111">Num. of different varieties</text>
<text x="93.0" y="143.8" font-size="5.8" text-anchor="middle" fill="#111">1</text>
<text x="140.0" y="143.8" font-size="5.8" text-anchor="middle" fill="#111">2</text>
<text x="183.0" y="143.8" font-size="5.8" text-anchor="middle" fill="#111">3</text>
<text x="226.5" y="143.8" font-size="5.8" text-anchor="middle" fill="#111">4</text>
<text x="265.5" y="143.8" font-size="5.8" text-anchor="middle" fill="#111">5</text>
<text x="302.0" y="143.8" font-size="5.8" text-anchor="middle" fill="#111">6</text>
<text x="339.5" y="143.8" font-size="5.8" text-anchor="middle" fill="#111">7</text>
<text x="374.0" y="143.8" font-size="5.8" text-anchor="middle" fill="#111">8</text>
<text x="404.5" y="143.8" font-size="5.8" text-anchor="middle" fill="#111">9</text>
<text x="433.0" y="143.8" font-size="5.8" text-anchor="middle" fill="#111">10</text>
<text x="463.5" y="143.8" font-size="5.8" text-anchor="middle" fill="#111">11</text>
<text x="497.5" y="143.8" font-size="5.8" text-anchor="middle" fill="#111">12</text>
<text class="se" transform="translate(87.8 40.5) scale(0.93 1)" font-size="6.95" font-style="italic" fill="#111" stroke="#111" stroke-width="0.12">OsEF3</text>
<text class="se" transform="translate(130.6 55.6) scale(0.93 1)" font-size="6.95" font-style="italic" fill="#E8202A" stroke="#E8202A" stroke-width="0.12">AIM1</text>
<text class="se" transform="translate(151.1 55.9) scale(0.93 1)" font-size="6.95" font-style="italic" fill="#111" stroke="#111" stroke-width="0.12">OsASR3</text>
<text class="se" transform="translate(296.4 52.0) scale(0.93 1)" font-size="6.95" font-style="italic" fill="#111" stroke="#111" stroke-width="0.12">FCP2</text>
<text class="se" transform="translate(326.0 33.7) scale(0.93 1)" font-size="6.95" font-style="italic" fill="#111" stroke="#111" stroke-width="0.12">OsPIP2;4</text>
<text class="se" transform="translate(316.3 55.8) scale(0.93 1)" font-size="6.95" font-style="italic" fill="#111" stroke="#111" stroke-width="0.12">OsbZIP60</text>
<text class="se" transform="translate(323.5 64.9) scale(0.93 1)" font-size="6.95" font-style="italic" fill="#111" stroke="#111" stroke-width="0.12">OsGL1-9</text>
<text class="se" transform="translate(370.7 47.4) scale(0.93 1)" font-size="6.95" font-style="italic" fill="#111" stroke="#111" stroke-width="0.12">OsHAP2A</text>
<text class="se" transform="translate(405.4 47.8) scale(0.93 1)" font-size="6.95" font-style="italic" fill="#111" stroke="#111" stroke-width="0.12">OsDIL</text>
<text class="se" transform="translate(433.6 46.3) scale(0.93 1)" font-size="6.95" font-style="italic" fill="#111" stroke="#111" stroke-width="0.12">OsNAC5</text>
<path d="M89.20 42.80L91.11 46.61" stroke="#000" stroke-width="0.6" fill="none"/>
<polygon points="93.70,51.80 88.33,48.00 93.88,45.23" fill="#000"/>
<path d="M136.40 58.20L134.93 59.73" stroke="#000" stroke-width="0.6" fill="none"/>
<polygon points="130.90,63.90 132.70,57.57 137.16,61.88" fill="#000"/>
<path d="M149.50 57.20L147.25 59.08" stroke="#000" stroke-width="0.6" fill="none"/>
<polygon points="142.80,62.80 145.26,56.70 149.24,61.46" fill="#000"/>
<path d="M302.80 55.40L304.68 57.76" stroke="#000" stroke-width="0.6" fill="none"/>
<polygon points="308.30,62.30 302.26,59.70 307.11,55.83" fill="#000"/>
<path d="M345.30 36.40L343.00 39.73" stroke="#000" stroke-width="0.6" fill="none"/>
<polygon points="339.70,44.50 340.45,37.97 345.55,41.49" fill="#000"/>
<path d="M341.00 54.00L346.83 56.40" stroke="#000" stroke-width="0.6" fill="none"/>
<polygon points="352.20,58.60 345.66,59.26 348.01,53.53" fill="#000"/>
<path d="M345.50 62.20L348.41 64.45" stroke="#000" stroke-width="0.6" fill="none"/>
<polygon points="353.00,68.00 346.52,66.90 350.31,62.00" fill="#000"/>
<path d="M382.40 50.40L380.42 53.37" stroke="#000" stroke-width="0.6" fill="none"/>
<polygon points="377.20,58.20 377.84,51.65 383.00,55.09" fill="#000"/>
<path d="M414.50 49.50L417.35 53.34" stroke="#000" stroke-width="0.6" fill="none"/>
<polygon points="420.80,58.00 414.86,55.19 419.84,51.49" fill="#000"/>
<path d="M446.60 46.80L448.70 49.70" stroke="#000" stroke-width="0.6" fill="none"/>
<polygon points="452.10,54.40 446.19,51.52 451.21,47.88" fill="#000"/>
</g>
<g id="panelB">
<rect x="250.00" y="175.55" width="84.37" height="3.8" fill="#F07E2A" stroke="#0d0d0d" stroke-width="1.0"/>
<text x="244.3" y="181.25" font-size="8.68" text-anchor="end" fill="#000">carbohydrate metabolic process</text>
<text x="344.57" y="180.45" font-size="10.5" font-weight="bold" text-anchor="middle" fill="#111">*</text>
<rect x="250.00" y="186.46" width="89.16" height="3.8" fill="#3DB03C" stroke="#0d0d0d" stroke-width="1.0"/>
<text x="244.3" y="192.16" font-size="8.68" text-anchor="end" fill="#000">catabolic process</text>
<rect x="250.00" y="197.37" width="95.55" height="3.8" fill="#F07E2A" stroke="#0d0d0d" stroke-width="1.0"/>
<text x="244.3" y="203.07" font-size="8.68" text-anchor="end" fill="#000">polysaccharide metabolic process</text>
<rect x="250.00" y="208.28" width="101.30" height="3.8" fill="#F07E2A" stroke="#0d0d0d" stroke-width="1.0"/>
<text x="244.3" y="213.98" font-size="8.68" text-anchor="end" fill="#000">response to stimulus</text>
<text x="361.50" y="213.18" font-size="10.5" font-weight="bold" text-anchor="middle" fill="#111">*</text>
<rect x="250.00" y="219.19" width="111.53" height="3.8" fill="#3DB03C" stroke="#0d0d0d" stroke-width="1.0"/>
<text x="244.3" y="224.89" font-size="8.68" text-anchor="end" fill="#000">macromolecule catabolic process</text>
<rect x="250.00" y="230.10" width="116.64" height="3.8" fill="#3DB03C" stroke="#0d0d0d" stroke-width="1.0"/>
<text x="244.3" y="235.80" font-size="8.68" text-anchor="end" fill="#000">cellular ketone metabolic process</text>
<rect x="250.00" y="241.01" width="118.55" height="3.8" fill="#3DB03C" stroke="#0d0d0d" stroke-width="1.0"/>
<text x="244.3" y="246.71" font-size="8.68" text-anchor="end" fill="#000">oxoacid metabolic process</text>
<rect x="250.00" y="251.92" width="118.55" height="3.8" fill="#3DB03C" stroke="#0d0d0d" stroke-width="1.0"/>
<text x="244.3" y="257.62" font-size="8.68" text-anchor="end" fill="#000">organic acid metabolic process</text>
<rect x="250.00" y="262.83" width="118.55" height="3.8" fill="#3DB03C" stroke="#0d0d0d" stroke-width="1.0"/>
<text x="244.3" y="268.53" font-size="8.68" text-anchor="end" fill="#000">carboxylic acid metabolic process</text>
<rect x="250.00" y="273.74" width="136.45" height="3.8" fill="#3DB03C" stroke="#0d0d0d" stroke-width="1.0"/>
<text x="244.3" y="279.44" font-size="8.68" text-anchor="end" fill="#000">lipid biosynthetic process</text>
<rect x="250.00" y="284.65" width="139.64" height="3.8" fill="#3DB03C" stroke="#0d0d0d" stroke-width="1.0"/>
<text x="244.3" y="290.35" font-size="8.68" text-anchor="end" fill="#000">carboxylic acid biosynthetic process</text>
<rect x="250.00" y="295.56" width="139.64" height="3.8" fill="#3DB03C" stroke="#0d0d0d" stroke-width="1.0"/>
<text x="244.3" y="301.26" font-size="8.68" text-anchor="end" fill="#000">organic acid biosynthetic process</text>
<rect x="250.00" y="306.47" width="139.64" height="3.8" fill="#3DB03C" stroke="#0d0d0d" stroke-width="1.0"/>
<text x="244.3" y="312.17" font-size="8.68" text-anchor="end" fill="#000">small molecule biosynthetic process</text>
<rect x="250.00" y="317.38" width="142.20" height="3.8" fill="#3DB03C" stroke="#0d0d0d" stroke-width="1.0"/>
<text x="244.3" y="323.08" font-size="8.68" text-anchor="end" fill="#000">monocarboxylic acid metabolic process</text>
<rect x="250.00" y="328.29" width="154.98" height="3.8" fill="#3DB03C" stroke="#0d0d0d" stroke-width="1.0"/>
<text x="244.3" y="333.99" font-size="8.68" text-anchor="end" fill="#000">fatty acid biosynthetic process</text>
<rect x="250.00" y="339.20" width="168.40" height="3.8" fill="#3DB03C" stroke="#0d0d0d" stroke-width="1.0"/>
<text x="244.3" y="344.90" font-size="8.68" text-anchor="end" fill="#000">cellular lipid metabolic process</text>
<rect x="250.00" y="350.11" width="168.40" height="3.8" fill="#3DB03C" stroke="#0d0d0d" stroke-width="1.0"/>
<text x="244.3" y="355.81" font-size="8.68" text-anchor="end" fill="#000">lipid metabolic process</text>
<rect x="250.00" y="361.02" width="180.54" height="3.8" fill="#3DB03C" stroke="#0d0d0d" stroke-width="1.0"/>
<text x="244.3" y="366.72" font-size="8.68" text-anchor="end" fill="#000">fatty acid metabolic process</text>
<text x="440.74" y="365.92" font-size="10.5" font-weight="bold" text-anchor="middle" fill="#111">*</text>
<path d="M250.00 171.49 V368.40 H442.20" fill="none" stroke="#111" stroke-width="1.15"/>
<path d="M250.00 171.99h-2.9M250.00 182.90h-2.9M250.00 193.81h-2.9M250.00 204.72h-2.9M250.00 215.63h-2.9M250.00 226.54h-2.9M250.00 237.45h-2.9M250.00 248.36h-2.9M250.00 259.27h-2.9M250.00 270.18h-2.9M250.00 281.09h-2.9M250.00 292.00h-2.9M250.00 302.91h-2.9M250.00 313.82h-2.9M250.00 324.74h-2.9M250.00 335.64h-2.9M250.00 346.55h-2.9M250.00 357.46h-2.9M250.00 368.38h-2.9" stroke="#111" stroke-width="1" fill="none"/>
<text x="250.00" y="385.9" font-size="10.4" font-weight="bold" text-anchor="middle" fill="#111">0</text>
<text x="313.90" y="385.9" font-size="10.4" font-weight="bold" text-anchor="middle" fill="#111">1</text>
<text x="377.80" y="385.9" font-size="10.4" font-weight="bold" text-anchor="middle" fill="#111">2</text>
<text x="441.70" y="385.9" font-size="10.4" font-weight="bold" text-anchor="middle" fill="#111">3</text>
<path d="M250.00 368.40v4.6M313.90 368.40v4.6M377.80 368.40v4.6M441.70 368.40v4.6" stroke="#111" stroke-width="1" fill="none"/>
<text x="330.3" y="401.2" font-size="10.7" text-anchor="middle" fill="#111">-log<tspan font-size="6.9" dy="2.3">10</tspan><tspan dy="-2.3"> (</tspan><tspan font-style="italic">p</tspan> value)</text>
</g>
<g id="panelC">
<path d="M26.30 423.30H299.30V545.40H26.30ZM56.30 423.30V545.40M69.40 434.20V545.40M82.50 434.20V545.40M95.60 434.20V545.40M108.70 434.20V545.40M121.80 434.20V545.40M134.90 434.20V545.40M148.00 434.20V545.40M161.10 434.20V545.40M174.20 434.20V545.40M187.30 434.20V545.40M200.40 434.20V545.40M213.50 434.20V545.40M226.60 434.20V545.40M239.70 423.30V545.40M258.90 423.30V545.40M279.30 423.30V545.40M56.30 434.20H258.90M26.30 493.50H299.30M26.30 503.88H299.30M26.30 514.26H299.30M26.30 524.64H299.30M26.30 535.02H299.30" fill="none" stroke="#222" stroke-width="0.75"/>
<path d="M241.00 423.30V434.20" stroke="#222" stroke-width="0.6" fill="none"/>
<text x="148.10" y="431.6" font-size="8.55" text-anchor="middle" fill="#111">Promoter</text>
<text x="249.80" y="431.9" font-size="8.8" text-anchor="middle" fill="#111">CDS</text>
<text x="41.60" y="462.3" font-size="8.6" text-anchor="middle" fill="#111">Hap.</text>
<text x="269.10" y="461.6" font-size="8.1" font-style="italic" text-anchor="middle" fill="#111">Ind.</text>
<text x="289.30" y="461.6" font-size="8.1" font-style="italic" text-anchor="middle" fill="#111">Jap.</text>
<text transform="translate(60.95 439.00) rotate(90)" font-size="6.98" fill="#111">Chr2_9999536</text>
<text transform="translate(74.05 439.00) rotate(90)" font-size="6.98" fill="#111">Chr2_9999567</text>
<text transform="translate(87.15 439.00) rotate(90)" font-size="6.98" fill="#111">Chr2_9999622</text>
<text transform="translate(100.25 439.00) rotate(90)" font-size="6.98" fill="#111">Chr2_9999756</text>
<text transform="translate(113.35 439.00) rotate(90)" font-size="6.98" fill="#111">Chr2_10000152</text>
<text transform="translate(126.45 439.00) rotate(90)" font-size="6.98" fill="#111">Chr2_10000158</text>
<text transform="translate(139.55 439.00) rotate(90)" font-size="6.98" fill="#111">Chr2_10000179</text>
<text transform="translate(152.65 439.00) rotate(90)" font-size="6.98" fill="#111">Chr2_10000186</text>
<text transform="translate(165.75 439.00) rotate(90)" font-size="6.98" fill="#111">Chr2_10000193</text>
<text transform="translate(178.85 439.00) rotate(90)" font-size="6.98" fill="#111">Chr2_10000198</text>
<text transform="translate(191.95 439.00) rotate(90)" font-size="6.98" fill="#111">Chr2_10000223</text>
<text transform="translate(205.05 439.00) rotate(90)" font-size="6.98" fill="#111">Chr2_10000250</text>
<text transform="translate(218.15 439.00) rotate(90)" font-size="6.98" fill="#111">Chr2_10000367</text>
<text transform="translate(231.25 439.00) rotate(90)" font-size="6.98" fill="#111">Chr2_10000707</text>
<text transform="translate(247.40 439.00) rotate(90)" font-size="6.98" fill="#111">Chr2_10003872</text>
<text x="41.30" y="501.30" font-size="7.4" text-anchor="middle" fill="#111">Hap1</text>
<text x="62.85" y="501.30" font-size="7.4" text-anchor="middle" fill="#111">C</text>
<text x="75.95" y="501.30" font-size="7.4" text-anchor="middle" fill="#111">C</text>
<text x="89.05" y="501.30" font-size="7.4" text-anchor="middle" fill="#111">A</text>
<text x="102.15" y="501.30" font-size="7.4" text-anchor="middle" fill="#111">T</text>
<text x="115.25" y="501.30" font-size="7.4" text-anchor="middle" fill="#111">T</text>
<text x="128.35" y="501.30" font-size="7.4" text-anchor="middle" fill="#111">A</text>
<text x="141.45" y="501.30" font-size="7.4" text-anchor="middle" fill="#111">G</text>
<text x="154.55" y="501.30" font-size="7.4" text-anchor="middle" fill="#111">T</text>
<text x="167.65" y="501.30" font-size="7.4" text-anchor="middle" fill="#111">T</text>
<text x="180.75" y="501.30" font-size="7.4" text-anchor="middle" fill="#111">T</text>
<text x="193.85" y="501.30" font-size="7.4" text-anchor="middle" fill="#111">T</text>
<text x="206.95" y="501.30" font-size="7.4" text-anchor="middle" fill="#111">T</text>
<text x="220.05" y="501.30" font-size="7.4" text-anchor="middle" fill="#111">T</text>
<text x="233.15" y="501.30" font-size="7.4" text-anchor="middle" fill="#111">G</text>
<text x="249.30" y="501.30" font-size="7.4" text-anchor="middle" fill="#111">C</text>
<text x="269.10" y="501.40" font-size="6.8" text-anchor="middle" fill="#111">83</text>
<text x="289.30" y="501.40" font-size="6.8" text-anchor="middle" fill="#111">9</text>
<text x="41.30" y="511.68" font-size="7.4" text-anchor="middle" fill="#111">Hap2</text>
<text x="62.85" y="511.68" font-size="7.4" text-anchor="middle" fill="#111">T</text>
<text x="75.95" y="511.68" font-size="7.4" text-anchor="middle" fill="#111">T</text>
<text x="89.05" y="511.68" font-size="7.4" text-anchor="middle" fill="#111">G</text>
<text x="102.15" y="511.68" font-size="7.4" text-anchor="middle" fill="#111">C</text>
<text x="115.25" y="511.68" font-size="7.4" text-anchor="middle" fill="#111">C</text>
<text x="128.35" y="511.68" font-size="7.4" text-anchor="middle" fill="#111">C</text>
<text x="141.45" y="511.68" font-size="7.4" text-anchor="middle" fill="#111">A</text>
<text x="154.55" y="511.68" font-size="7.4" text-anchor="middle" fill="#111">A</text>
<text x="167.65" y="511.68" font-size="7.4" text-anchor="middle" fill="#111">C</text>
<text x="180.75" y="511.68" font-size="7.4" text-anchor="middle" fill="#111">A</text>
<text x="193.85" y="511.68" font-size="7.4" text-anchor="middle" fill="#111">C</text>
<text x="206.95" y="511.68" font-size="7.4" text-anchor="middle" fill="#111">C</text>
<text x="220.05" y="511.68" font-size="7.4" text-anchor="middle" fill="#111">C</text>
<text x="233.15" y="511.68" font-size="7.4" text-anchor="middle" fill="#111">A</text>
<text x="249.30" y="511.68" font-size="7.4" text-anchor="middle" fill="#111">G</text>
<text x="269.10" y="511.78" font-size="6.8" text-anchor="middle" fill="#111">0</text>
<text x="289.30" y="511.78" font-size="6.8" text-anchor="middle" fill="#111">118</text>
<text x="41.30" y="522.06" font-size="7.4" text-anchor="middle" fill="#111">Hap3</text>
<text x="62.85" y="522.06" font-size="7.4" text-anchor="middle" fill="#111">T</text>
<text x="75.95" y="522.06" font-size="7.4" text-anchor="middle" fill="#111">T</text>
<text x="89.05" y="522.06" font-size="7.4" text-anchor="middle" fill="#111">G</text>
<text x="102.15" y="522.06" font-size="7.4" text-anchor="middle" fill="#111">C</text>
<text x="115.25" y="522.06" font-size="7.4" text-anchor="middle" fill="#111">C</text>
<text x="128.35" y="522.06" font-size="7.4" text-anchor="middle" fill="#111">C</text>
<text x="141.45" y="522.06" font-size="7.4" text-anchor="middle" fill="#111">A</text>
<text x="154.55" y="522.06" font-size="7.4" text-anchor="middle" fill="#111">A</text>
<text x="167.65" y="522.06" font-size="7.4" text-anchor="middle" fill="#111">C</text>
<text x="180.75" y="522.06" font-size="7.4" text-anchor="middle" fill="#111">A</text>
<text x="193.85" y="522.06" font-size="7.4" text-anchor="middle" fill="#111">C</text>
<text x="206.95" y="522.06" font-size="7.4" text-anchor="middle" fill="#111">T</text>
<text x="220.05" y="522.06" font-size="7.4" text-anchor="middle" fill="#111">C</text>
<text x="233.15" y="522.06" font-size="7.4" text-anchor="middle" fill="#111">G</text>
<text x="249.30" y="522.06" font-size="7.4" text-anchor="middle" fill="#111">C</text>
<text x="269.10" y="522.16" font-size="6.8" text-anchor="middle" fill="#111">62</text>
<text x="289.30" y="522.16" font-size="6.8" text-anchor="middle" fill="#111">1</text>
<text x="41.30" y="532.44" font-size="7.4" text-anchor="middle" fill="#111">Hap4</text>
<text x="62.85" y="532.44" font-size="7.4" text-anchor="middle" fill="#111">T</text>
<text x="75.95" y="532.44" font-size="7.4" text-anchor="middle" fill="#111">T</text>
<text x="89.05" y="532.44" font-size="7.4" text-anchor="middle" fill="#111">G</text>
<text x="102.15" y="532.44" font-size="7.4" text-anchor="middle" fill="#111">C</text>
<text x="115.25" y="532.44" font-size="7.4" text-anchor="middle" fill="#111">C</text>
<text x="128.35" y="532.44" font-size="7.4" text-anchor="middle" fill="#111">C</text>
<text x="141.45" y="532.44" font-size="7.4" text-anchor="middle" fill="#111">G</text>
<text x="154.55" y="532.44" font-size="7.4" text-anchor="middle" fill="#111">A</text>
<text x="167.65" y="532.44" font-size="7.4" text-anchor="middle" fill="#111">C</text>
<text x="180.75" y="532.44" font-size="7.4" text-anchor="middle" fill="#111">A</text>
<text x="193.85" y="532.44" font-size="7.4" text-anchor="middle" fill="#111">C</text>
<text x="206.95" y="532.44" font-size="7.4" text-anchor="middle" fill="#111">T</text>
<text x="220.05" y="532.44" font-size="7.4" text-anchor="middle" fill="#111">C</text>
<text x="233.15" y="532.44" font-size="7.4" text-anchor="middle" fill="#111">G</text>
<text x="249.30" y="532.44" font-size="7.4" text-anchor="middle" fill="#111">C</text>
<text x="269.10" y="532.54" font-size="6.8" text-anchor="middle" fill="#111">60</text>
<text x="289.30" y="532.54" font-size="6.8" text-anchor="middle" fill="#111">4</text>
<text x="41.30" y="542.82" font-size="7.4" text-anchor="middle" fill="#111">Hap5</text>
<text x="62.85" y="542.82" font-size="7.4" text-anchor="middle" fill="#111">T</text>
<text x="75.95" y="542.82" font-size="7.4" text-anchor="middle" fill="#111">T</text>
<text x="89.05" y="542.82" font-size="7.4" text-anchor="middle" fill="#111">G</text>
<text x="102.15" y="542.82" font-size="7.4" text-anchor="middle" fill="#111">C</text>
<text x="115.25" y="542.82" font-size="7.4" text-anchor="middle" fill="#111">T</text>
<text x="128.35" y="542.82" font-size="7.4" text-anchor="middle" fill="#111">C</text>
<text x="141.45" y="542.82" font-size="7.4" text-anchor="middle" fill="#111">G</text>
<text x="154.55" y="542.82" font-size="7.4" text-anchor="middle" fill="#111">A</text>
<text x="167.65" y="542.82" font-size="7.4" text-anchor="middle" fill="#111">C</text>
<text x="180.75" y="542.82" font-size="7.4" text-anchor="middle" fill="#111">A</text>
<text x="193.85" y="542.82" font-size="7.4" text-anchor="middle" fill="#111">C</text>
<text x="206.95" y="542.82" font-size="7.4" text-anchor="middle" fill="#111">C</text>
<text x="220.05" y="542.82" font-size="7.4" text-anchor="middle" fill="#111">C</text>
<text x="233.15" y="542.82" font-size="7.4" text-anchor="middle" fill="#111">A</text>
<text x="249.30" y="542.82" font-size="7.4" text-anchor="middle" fill="#111">G</text>
<text x="269.10" y="542.92" font-size="6.8" text-anchor="middle" fill="#111">60</text>
<text x="289.30" y="542.92" font-size="6.8" text-anchor="middle" fill="#111">61</text>
</g>
<g id="panelD">
<rect x="356.60" y="420.40" width="172.60" height="101.70" fill="none" stroke="#555" stroke-width="0.8"/>
<path d="M452.7 420.40V525.10" stroke="#666" stroke-width="0.7" stroke-dasharray="3.2 2.2" fill="none"/>
<text x="349.0" y="521.05" font-size="6.4" text-anchor="end" fill="#222">7</text>
<text x="349.0" y="495.40" font-size="6.4" text-anchor="end" fill="#222">10</text>
<text x="349.0" y="469.75" font-size="6.4" text-anchor="end" fill="#222">13</text>
<text x="349.0" y="444.10" font-size="6.4" text-anchor="end" fill="#222">16</text>
<path d="M356.60 518.75h-3.2M356.60 493.10h-3.2M356.60 467.45h-3.2M356.60 441.80h-3.2" stroke="#555" stroke-width="0.8" fill="none"/>
<text transform="translate(337.3 470.5) rotate(-90)" font-size="8.8" text-anchor="middle" fill="#111">Root length (cm)</text>
<path d="M372.90 436.24V460.95M372.90 478.82V505.07" stroke="#555" stroke-width="0.8" stroke-dasharray="1.6 1.2" fill="none"/>
<path d="M368.90 436.24h8.00M368.90 505.07h8.00" stroke="#666" stroke-width="0.9" fill="none"/>
<polygon points="365.00,460.95 380.80,460.95 380.80,465.40 376.80,468.13 380.80,470.87 380.80,478.82 365.00,478.82 365.00,470.87 369.00,468.13 365.00,465.40" fill="#0000FF" stroke="#333" stroke-width="0.6"/>
<path d="M369.00 468.13h7.80" stroke="#111" stroke-width="1.3" fill="none"/>
<text x="372.90" y="432.10" font-size="9.4" text-anchor="middle" fill="#111">a</text>
<path d="M372.90 522.10v4" stroke="#555" stroke-width="0.8" fill="none"/>
<text transform="translate(375.60 528.30) rotate(-52)" font-size="7.7" text-anchor="end" fill="#111">Hap1</text>
<path d="M392.80 444.37V463.52M392.80 483.10V501.74" stroke="#555" stroke-width="0.8" stroke-dasharray="1.6 1.2" fill="none"/>
<path d="M388.80 444.37h8.00M388.80 501.74h8.00" stroke="#666" stroke-width="0.9" fill="none"/>
<polygon points="384.90,463.52 400.70,463.52 400.70,472.75 396.70,475.49 400.70,478.22 400.70,483.10 384.90,483.10 384.90,478.22 388.90,475.49 384.90,472.75" fill="#FF0000" stroke="#333" stroke-width="0.6"/>
<path d="M388.90 475.49h7.80" stroke="#111" stroke-width="1.3" fill="none"/>
<text x="392.80" y="441.00" font-size="9.4" text-anchor="middle" fill="#111">b</text>
<path d="M392.80 522.10v4" stroke="#555" stroke-width="0.8" fill="none"/>
<text transform="translate(395.50 528.30) rotate(-52)" font-size="7.7" text-anchor="end" fill="#111">Hap3</text>
<path d="M412.40 446.93V460.95M412.40 474.29V489.00" stroke="#555" stroke-width="0.8" stroke-dasharray="1.6 1.2" fill="none"/>
<path d="M408.40 446.93h8.00M408.40 489.00h8.00" stroke="#666" stroke-width="0.9" fill="none"/>
<polygon points="404.50,460.95 420.30,460.95 420.30,467.11 416.30,469.84 420.30,472.58 420.30,474.29 404.50,474.29 404.50,472.58 408.50,469.84 404.50,467.11" fill="#FFC0CB" stroke="#333" stroke-width="0.6"/>
<path d="M408.50 469.84h7.80" stroke="#111" stroke-width="1.3" fill="none"/>
<text x="412.40" y="443.10" font-size="9.4" text-anchor="middle" fill="#111">a</text>
<path d="M412.40 522.10v4" stroke="#555" stroke-width="0.8" fill="none"/>
<text transform="translate(415.10 528.30) rotate(-52)" font-size="7.7" text-anchor="end" fill="#111">Hap4</text>
<path d="M433.10 443.94V462.32M433.10 480.87V507.38" stroke="#555" stroke-width="0.8" stroke-dasharray="1.6 1.2" fill="none"/>
<path d="M429.10 443.94h8.00M429.10 507.38h8.00" stroke="#666" stroke-width="0.9" fill="none"/>
<polygon points="425.20,462.32 441.00,462.32 441.00,468.99 437.00,471.73 441.00,474.46 441.00,480.87 425.20,480.87 425.20,474.46 429.20,471.73 425.20,468.99" fill="#FFA500" stroke="#333" stroke-width="0.6"/>
<path d="M429.20 471.73h7.80" stroke="#111" stroke-width="1.3" fill="none"/>
<text x="433.10" y="438.80" font-size="9.4" text-anchor="middle" fill="#111">ab</text>
<path d="M433.10 522.10v4" stroke="#555" stroke-width="0.8" fill="none"/>
<text transform="translate(435.80 528.30) rotate(-52)" font-size="7.7" text-anchor="end" fill="#111">Hap5</text>
<path d="M473.10 464.03V469.16M473.10 484.72V492.25" stroke="#555" stroke-width="0.8" stroke-dasharray="1.6 1.2" fill="none"/>
<path d="M469.10 464.03h8.00M469.10 492.25h8.00" stroke="#666" stroke-width="0.9" fill="none"/>
<polygon points="465.20,468.90 481.00,468.90 477.00,478.82 481.00,485.00 481.00,482.20 465.20,482.20 465.20,485.00 469.20,478.82" fill="#0000FF" stroke="#333" stroke-width="0.6"/>
<path d="M469.20 478.82h7.80" stroke="#111" stroke-width="1.3" fill="none"/>
<text x="473.10" y="460.30" font-size="9.4" text-anchor="middle" fill="#111">b</text>
<path d="M473.10 522.10v4" stroke="#555" stroke-width="0.8" fill="none"/>
<text transform="translate(475.80 528.30) rotate(-52)" font-size="7.7" text-anchor="end" fill="#111">Hap1</text>
<path d="M493.00 448.21V464.29M493.00 476.86V493.96" stroke="#555" stroke-width="0.8" stroke-dasharray="1.6 1.2" fill="none"/>
<path d="M489.00 448.21h8.00M489.00 493.96h8.00" stroke="#666" stroke-width="0.9" fill="none"/>
<polygon points="485.10,464.29 500.90,464.29 500.90,468.39 496.90,471.13 500.90,473.86 500.90,476.86 485.10,476.86 485.10,473.86 489.10,471.13 485.10,468.39" fill="#76D3EF" stroke="#333" stroke-width="0.6"/>
<path d="M489.10 471.13h7.80" stroke="#111" stroke-width="1.3" fill="none"/>
<text x="493.00" y="444.30" font-size="9.4" text-anchor="middle" fill="#111">ab</text>
<path d="M493.00 522.10v4" stroke="#555" stroke-width="0.8" fill="none"/>
<text transform="translate(495.70 528.30) rotate(-52)" font-size="7.7" text-anchor="end" fill="#111">Hap2</text>
<path d="M512.90 434.70V455.48M512.90 471.73V493.10" stroke="#555" stroke-width="0.8" stroke-dasharray="1.6 1.2" fill="none"/>
<path d="M508.90 434.70h8.00M508.90 493.10h8.00" stroke="#666" stroke-width="0.9" fill="none"/>
<polygon points="505.00,455.48 520.80,455.48 520.80,465.14 516.80,467.88 520.80,470.61 520.80,471.73 505.00,471.73 505.00,470.61 509.00,467.88 505.00,465.14" fill="#FFA500" stroke="#333" stroke-width="0.6"/>
<path d="M509.00 467.88h7.80" stroke="#111" stroke-width="1.3" fill="none"/>
<text x="512.90" y="430.40" font-size="9.4" text-anchor="middle" fill="#111">a</text>
<path d="M512.90 522.10v4" stroke="#555" stroke-width="0.8" fill="none"/>
<text transform="translate(515.60 528.30) rotate(-52)" font-size="7.7" text-anchor="end" fill="#111">Hap6</text>
<text x="403" y="517.9" font-size="8.6" font-style="italic" text-anchor="middle" fill="#111">Indica</text>
<text x="487" y="517.9" font-size="8.6" font-style="italic" text-anchor="middle" fill="#111">Japonica</text>
</g>
</svg></body></html>
